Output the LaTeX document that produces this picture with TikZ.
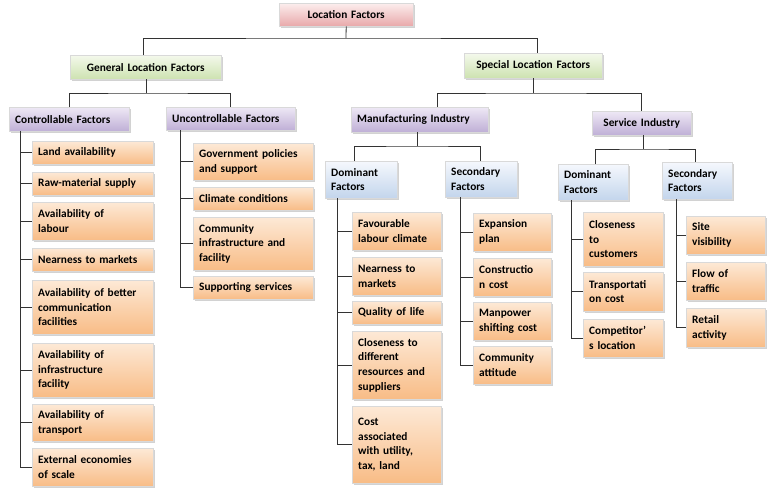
\documentclass[tikz,border=0pt]{standalone}
\usepackage{fontspec}
\setmainfont{Carlito}
\usetikzlibrary{shadows}
\definecolor{itT}{HTML}{FDE9D6}\definecolor{itB}{HTML}{F8BC86}
\definecolor{puT}{HTML}{EEE8F5}\definecolor{puB}{HTML}{BFAFD6}
\definecolor{blT}{HTML}{F5F8FD}\definecolor{blB}{HTML}{C3D5EC}
\definecolor{grT}{HTML}{F4F9EC}\definecolor{grB}{HTML}{CDE2B0}
\definecolor{pkT}{HTML}{FCEDED}\definecolor{pkB}{HTML}{E8A8AA}
\begin{document}
\begin{tikzpicture}[x=0.75pt,y=-0.75pt,
  base/.style 2 args={anchor=north west,font=\bfseries\fontsize{8.5}{11}\selectfont,inner xsep=4.5pt,inner ysep=1pt,
     minimum width=#1*0.75pt,minimum height=#2*0.75pt,text width=#1*0.75pt-9pt,align=left,
     draw=black!15,line width=0.3pt,drop shadow={shadow xshift=1.2pt,shadow yshift=-1.2pt,fill=black!35}},
  item/.style 2 args={base={#1}{#2},top color=itT,bottom color=itB},
  pur/.style 2 args={base={#1}{#2},top color=puT,bottom color=puB},
  blu/.style 2 args={base={#1}{#2},top color=blT,bottom color=blB},
  gre/.style 2 args={base={#1}{#2},top color=grT,bottom color=grB,align=center},
  pnk/.style 2 args={base={#1}{#2},top color=pkT,bottom color=pkB,align=center},
  ln/.style={draw=black!80,line width=0.6pt}]
\fill[white] (0,0) rectangle (768,496);
\useasboundingbox (0,0) rectangle (768,496);
% top levels
\node[pnk={134}{23}] (lf) at (279,3) {Location Factors};
\node[gre={151}{24}] (gl) at (70,55) {General Location Factors};
\node[gre={138}{25}] (sl) at (464,53) {Special Location Factors};
\node[pur={120}{24}] (cf) at (9,107) {Controllable Factors};
\node[pur={129}{23}] (uf) at (166,107) {Uncontrollable Factors};
\node[pur={137}{25}] (mi) at (351,107) {Manufacturing Industry};
\node[pur={99}{24},align=center] (si) at (592,111) {Service Industry};
\node[blu={72}{37}] (md) at (325,161) {Dominant\\Factors};
\node[blu={72}{36}] (ms) at (445,161) {Secondary\\Factors};
\node[blu={70}{36}] (sd) at (558,164) {Dominant\\Factors};
\node[blu={70}{37}] (ss) at (662,162) {Secondary\\Factors};
% controllable
\node[item={121}{23}] (c1) at (32,141) {Land availability};
\node[item={121}{23}] (c2) at (32,172) {Raw-material supply};
\node[item={121}{38}] (c3) at (32,202) {Availability of\\labour};
\node[item={121}{23}] (c4) at (32,248) {Nearness to markets};
\node[item={121}{54}] (c5) at (32,280) {Availability of better\\communication\\facilities};
\node[item={121}{54}] (c6) at (32,343) {Availability of\\infrastructure\\facility};
\node[item={121}{37}] (c7) at (32,404) {Availability of\\transport};
\node[item={121}{38}] (c8) at (32,448) {External economies\\of scale};
% uncontrollable
\node[item={120}{37}] (u1) at (193,143) {Government policies\\and support};
\node[item={120}{23}] (u2) at (193,187) {Climate conditions};
\node[item={120}{53}] (u3) at (193,217) {Community\\infrastructure and\\facility};
\node[item={120}{23}] (u4) at (193,276) {Supporting services};
% manufacturing dominant
\node[item={89}{38}] (d1) at (352,212) {Favourable\\labour climate};
\node[item={89}{38}] (d2) at (352,257) {Nearness to\\markets};
\node[item={89}{23}] (d3) at (352,301) {Quality of life};
\node[item={89}{68}] (d4) at (352,331) {Closeness to\\different\\resources and\\suppliers};
\node[item={89}{77}] (d5) at (352,406) {Cost\\associated\\with utility,\\tax, land};
% manufacturing secondary
\node[item={78}{38}] (e1) at (473,213) {Expansion\\plan};
\node[item={78}{38}] (e2) at (473,258) {Constructio\\n cost};
\node[item={78}{38}] (e3) at (473,302) {Manpower\\shifting cost};
\node[item={78}{38}] (e4) at (473,346) {Community\\attitude};
% service dominant
\node[item={80}{54}] (f1) at (583,212) {Closeness\\to\\customers};
\node[item={80}{39}] (f2) at (583,272) {Transportati\\on cost};
\node[item={80}{38}] (f3) at (583,319) {Competitor'\\s location};
% service secondary
\node[item={79}{38}] (g1) at (686,216) {Site\\visibility};
\node[item={79}{38}] (g2) at (686,262) {Flow of\\traffic};
\node[item={79}{39}] (g3) at (686,308) {Retail\\activity};
% tree connectors
\coordinate (j0) at (346,38);
\draw[ln] (lf.south) -- (j0);
\draw[ln] (gl.north -| 143,0) |- (j0) -| (sl.north -| 537,0);
\coordinate (j1) at (146,93);
\draw[ln] (gl.south -| j1) -- (j1);
\draw[ln] (cf.north -| 69,0) |- (j1) -| (uf.north -| 230,0);
\coordinate (j2) at (533,93);
\draw[ln] (sl.south -| j2) -- (j2);
\draw[ln] (mi.north -| 437,0) |- (j2) -| (si.north -| 641,0);
\coordinate (j3) at (417,146);
\draw[ln] (mi.south -| j3) -- (j3);
\draw[ln] (md.north -| 354,0) |- (j3) -| (ms.north -| 480,0);
\coordinate (j4) at (643,149);
\draw[ln] (si.south -| j4) -- (j4);
\draw[ln] (sd.north -| 595,0) |- (j4) -| (ss.north -| 695,0);
% trunks
\foreach \p/\x/\l in {cf/20/{c1,c2,c3,c4,c5,c6,c7,c8},uf/180/{u1,u2,u3,u4},md/337/{d1,d2,d3,d4,d5},ms/460/{e1,e2,e3,e4},sd/571/{f1,f2,f3},ss/676/{g1,g2,g3}}{
  \foreach \c in \l { \draw[ln] (\p.south -| \x,0) |- (\c.west); }
}
\end{tikzpicture}
\end{document}
